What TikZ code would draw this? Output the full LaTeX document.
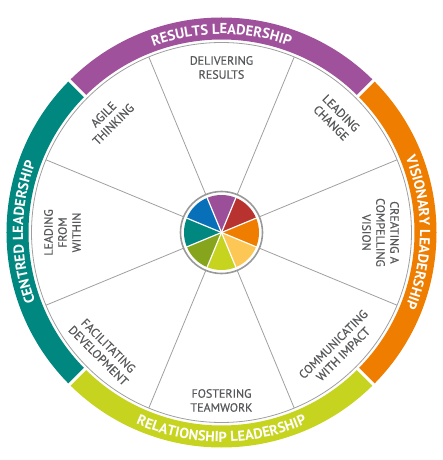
\documentclass[tikz,border=0pt]{standalone}
\usepackage{fontspec}
\setsansfont{PT Sans}
\newfontfamily\skillfont[FakeBold=0.6]{PT Sans}
\usetikzlibrary{decorations.text}

\definecolor{resultscol}{HTML}{A0519B}
\definecolor{visioncol}{HTML}{EE7D00}
\definecolor{relationcol}{HTML}{C6D31F}
\definecolor{centredcol}{HTML}{00877F}
\definecolor{hubpurple}{HTML}{9B4F98}
\definecolor{hubred}{HTML}{B8322F}
\definecolor{huborange}{HTML}{EE7D00}
\definecolor{hubyellow}{HTML}{FCC755}
\definecolor{hublime}{HTML}{C6D31F}
\definecolor{hubolive}{HTML}{86A41C}
\definecolor{hubteal}{HTML}{00877F}
\definecolor{hubblue}{HTML}{0870B8}
\definecolor{labelgray}{HTML}{58595B}

\newcommand\ringfont{\sffamily\bfseries\fontsize{14.5}{17}\selectfont\color{white}}

\tikzset{
  band/.style={line width=22pt},
  rim/.style={draw=gray!75,line width=0.8pt},
  spoke/.style={draw=gray!75,line width=0.8pt},
  skill/.style={font=\skillfont\fontsize{12}{14}\selectfont,text=labelgray,align=center,inner sep=0pt},
  ringtext/.style={decorate,decoration={text along path,text align=center,text={|\ringfont|#1}}}
}

\begin{document}
\begin{tikzpicture}[x=1pt,y=1pt]
  \useasboundingbox (-221.5,-227.5) rectangle (221.5,232.5);

  % outer ring
  \draw[band,resultscol] (45:204) arc[start angle=45,end angle=135,radius=204];
  \draw[band,visioncol] (-45:204) arc[start angle=-45,end angle=45,radius=204];
  \draw[band,relationcol] (-135:204) arc[start angle=-135,end angle=-45,radius=204];
  \draw[band,centredcol] (135:204) arc[start angle=135,end angle=225,radius=204];
  \foreach \a in {45,135,225,315}
    \draw[white,line width=3pt] (\a:192) -- (\a:218);

  \path[ringtext={RESULTS LEADERSHIP}] (125:198.5) arc[start angle=125,end angle=55,radius=198.5];
  \path[ringtext={VISIONARY LEADERSHIP}] (40:198.5) arc[start angle=40,end angle=-40,radius=198.5];
  \path[ringtext={RELATIONSHIP LEADERSHIP}] (-140:209.5) arc[start angle=-140,end angle=-40,radius=209.5];
  \path[ringtext={CENTRED LEADERSHIP}] (220:198.5) arc[start angle=220,end angle=140,radius=198.5];

  % wheel and spokes
  \draw[rim] (0,0) circle (190);
  \foreach \a in {22.5,67.5,...,337.5}
    \draw[spoke] (\a:41) -- (\a:190);

  % hub
  \fill[white] (0,0) circle (41);
  \foreach \col [count=\i from 0] in {hubpurple,hubred,huborange,hubyellow,hublime,hubolive,hubteal,hubblue}
    \fill[\col] (0,0) -- ({67.5-45*\i}:37.5) arc[start angle={67.5-45*\i},end angle={112.5-45*\i},radius=37.5] -- cycle;
  \foreach \a in {22.5,67.5,...,337.5}
    \draw[white,line width=1.2pt] (0,0) -- (\a:38);
  \draw[gray!80,line width=1.6pt] (0,0) circle (41);

  % skills
  \node[skill] (results) at (90:165) {DELIVERING\\RESULTS};
  \node[skill,rotate=-45] (change) at (45:162) {LEADING\\CHANGE};
  \node[skill,rotate=-90] (vision) at (0:159) {CREATING A\\COMPELLING\\VISION};
  \node[skill,rotate=45] (impact) at (-45:165) {COMMUNICATING\\WITH IMPACT};
  \node[skill] (teamwork) at (-90:168) {FOSTERING\\TEAMWORK};
  \node[skill,rotate=-45] (development) at (-135:167) {FACILITATING\\DEVELOPMENT};
  \node[skill,rotate=90] (within) at (180:159) {LEADING\\FROM\\WITHIN};
  \node[skill,rotate=45] (agile) at (135:160) {AGILE\\THINKING};
\end{tikzpicture}
\end{document}
